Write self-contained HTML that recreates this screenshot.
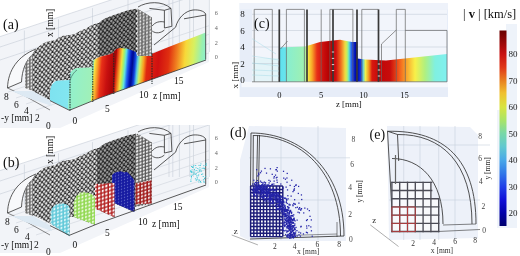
<!DOCTYPE html>
<html><head><meta charset="utf-8"><style>
html,body{margin:0;padding:0;background:#fff;}
svg{display:block;}
</style></head><body>
<svg width="520" height="256" viewBox="0 0 520 256">
<rect width="520" height="256" fill="#fff"/>
<defs>
 <pattern id="mesh" width="4.2" height="5" patternUnits="userSpaceOnUse" patternTransform="skewY(-17)">
  <rect width="4.2" height="5" fill="#eeeeee"/>
  <path d="M0,0 L4.2,5 M4.2,0 L0,5 M-2.1,2.5 L0,5 M0,0 L-2.1,2.5 M6.3,2.5 L4.2,5 M4.2,0 L6.3,2.5" stroke="#242424" stroke-width="0.85"/>
 </pattern>
 <pattern id="meshL" width="3.3" height="3.3" patternUnits="userSpaceOnUse" patternTransform="skewY(-17)">
  <rect width="3.3" height="3.3" fill="#6a6a6a"/>
  <rect x="1.0" y="0.5" width="1.6" height="2.3" fill="#f0f0f0"/>
 </pattern>
 <pattern id="meshR" width="3.6" height="3.8" patternUnits="userSpaceOnUse" patternTransform="skewY(-17)">
  <rect width="3.6" height="3.8" fill="#b01818"/>
  <rect x="0.9" y="0.7" width="2.2" height="2.5" fill="#fbf4f4"/>
 </pattern>
 <pattern id="meshW" width="3.3" height="3.3" patternUnits="userSpaceOnUse" patternTransform="skewY(-17)">
  <rect width="3.3" height="3.3" fill="#555"/>
  <rect x="0.9" y="0.7" width="2.0" height="2.2" fill="#f4f4f4"/>
 </pattern>
 <pattern id="meshC" width="3.5" height="3.5" patternUnits="userSpaceOnUse" patternTransform="skewY(-17)">
  <rect width="3.5" height="3.5" fill="#60c8d8"/>
  <rect x="1.0" y="0.7" width="1.9" height="2.2" fill="#e0f8fb"/>
 </pattern>
 <pattern id="meshG" width="3.5" height="3.5" patternUnits="userSpaceOnUse" patternTransform="skewY(-17)">
  <rect width="3.5" height="3.5" fill="#90d850"/>
  <rect x="1.0" y="0.7" width="1.9" height="2.2" fill="#eefae0"/>
 </pattern>
 <pattern id="meshB" width="3" height="3" patternUnits="userSpaceOnUse" patternTransform="skewY(-17)">
  <rect width="3" height="3" fill="#1418a0"/>
  <rect x="1" y="0.7" width="1.1" height="1.4" fill="#7078d0"/>
 </pattern>
 <pattern id="meshM" width="3.5" height="3.5" patternUnits="userSpaceOnUse" patternTransform="skewY(-17)">
  <rect width="3.5" height="3.5" fill="#a01818"/>
  <rect x="1.0" y="0.7" width="1.9" height="2.2" fill="#f8f0f0"/>
 </pattern>
 <linearGradient id="fieldA" gradientUnits="userSpaceOnUse" x1="50" y1="80" x2="208" y2="93.5"><stop offset="0.0000" stop-color="#7ee2f0"/><stop offset="0.1253" stop-color="#82e6f0"/><stop offset="0.1278" stop-color="#92f0cc"/><stop offset="0.2671" stop-color="#a0f0b8"/><stop offset="0.2709" stop-color="#f4ec48"/><stop offset="0.2911" stop-color="#f8a028"/><stop offset="0.3165" stop-color="#e83018"/><stop offset="0.3544" stop-color="#c81010"/><stop offset="0.3861" stop-color="#b00808"/><stop offset="0.4019" stop-color="#a00808"/><stop offset="0.4082" stop-color="#d82010"/><stop offset="0.4241" stop-color="#f08020"/><stop offset="0.4399" stop-color="#f0e040"/><stop offset="0.4525" stop-color="#a0f070"/><stop offset="0.4652" stop-color="#60e0e0"/><stop offset="0.4810" stop-color="#2060f0"/><stop offset="0.5000" stop-color="#0010b0"/><stop offset="0.5095" stop-color="#000c90"/><stop offset="0.5253" stop-color="#1040e0"/><stop offset="0.5411" stop-color="#60d0e0"/><stop offset="0.5570" stop-color="#d0f060"/><stop offset="0.5791" stop-color="#f8a020"/><stop offset="0.6013" stop-color="#e02810"/><stop offset="0.6709" stop-color="#d01010"/><stop offset="0.7342" stop-color="#e03010"/><stop offset="0.7848" stop-color="#f08020"/><stop offset="0.8354" stop-color="#f8d838"/><stop offset="0.8861" stop-color="#d8f060"/><stop offset="0.9367" stop-color="#98f0b0"/><stop offset="1.0000" stop-color="#80f0f0"/></linearGradient>
 <linearGradient id="fieldC" gradientUnits="userSpaceOnUse" x1="279" y1="0" x2="447" y2="0"><stop offset="0.0000" stop-color="#5ee0f0"/><stop offset="0.0387" stop-color="#68e4ec"/><stop offset="0.0476" stop-color="#88eed0"/><stop offset="0.1548" stop-color="#a0f0b0"/><stop offset="0.1696" stop-color="#f8f048"/><stop offset="0.1964" stop-color="#f8a828"/><stop offset="0.2262" stop-color="#e83018"/><stop offset="0.2679" stop-color="#c80c0c"/><stop offset="0.3036" stop-color="#b00000"/><stop offset="0.3393" stop-color="#d01010"/><stop offset="0.3690" stop-color="#f07020"/><stop offset="0.3929" stop-color="#f0d840"/><stop offset="0.4048" stop-color="#c0f060"/><stop offset="0.4167" stop-color="#60e0d0"/><stop offset="0.4286" stop-color="#3070f0"/><stop offset="0.4405" stop-color="#1030e0"/><stop offset="0.4583" stop-color="#0008a0"/><stop offset="0.4702" stop-color="#0010b0"/><stop offset="0.4881" stop-color="#1838e0"/><stop offset="0.5000" stop-color="#60d0e0"/><stop offset="0.5149" stop-color="#f0f048"/><stop offset="0.5357" stop-color="#f09020"/><stop offset="0.5536" stop-color="#d81810"/><stop offset="0.6012" stop-color="#c00808"/><stop offset="0.6607" stop-color="#c80c0c"/><stop offset="0.7083" stop-color="#f05018"/><stop offset="0.7500" stop-color="#f89828"/><stop offset="0.8095" stop-color="#f8f048"/><stop offset="0.8690" stop-color="#b0f080"/><stop offset="0.9286" stop-color="#80f0e0"/><stop offset="1.0000" stop-color="#80f0f0"/></linearGradient>
 <linearGradient id="cbar" x1="0" y1="1" x2="0" y2="0">
  <stop offset="0" stop-color="#00006e"/>
  <stop offset="0.066" stop-color="#0000a8"/>
  <stop offset="0.134" stop-color="#1010d8"/>
  <stop offset="0.202" stop-color="#2040e8"/>
  <stop offset="0.27" stop-color="#3078e8"/>
  <stop offset="0.338" stop-color="#48a8e8"/>
  <stop offset="0.405" stop-color="#60c8d0"/>
  <stop offset="0.473" stop-color="#78d8a8"/>
  <stop offset="0.54" stop-color="#a8e468"/>
  <stop offset="0.609" stop-color="#d8e440"/>
  <stop offset="0.68" stop-color="#f0c030"/>
  <stop offset="0.744" stop-color="#e88020"/>
  <stop offset="0.81" stop-color="#e03818"/>
  <stop offset="0.88" stop-color="#c81010"/>
  <stop offset="1" stop-color="#680000"/>
 </linearGradient>
</defs><clipPath id="bx0"><rect x="0" y="0" width="215" height="131"/></clipPath><g clip-path="url(#bx0)"><polygon points="0.0,36.6 209.0,-32.4 209.0,62.0 60.0,128.0 0.0,128.0" fill="#f2f4f8"/><g stroke="#c6ccd6" stroke-width="0.6" fill="none"><line x1="0" y1="36.6" x2="209" y2="-32.4"/><line x1="0" y1="47.0" x2="209" y2="-22.0"/><line x1="0" y1="60.0" x2="209" y2="-9.0"/><line x1="24.4" y1="30.5" x2="24.4" y2="70.5"/><line x1="58.5" y1="19.3" x2="58.5" y2="59.3"/><line x1="92.5" y1="8.1" x2="92.5" y2="48.1"/><line x1="128" y1="-3.6" x2="128" y2="36.4"/><line x1="169" y1="0" x2="169" y2="52"/><line x1="172.8" y1="0" x2="172.8" y2="52"/><line x1="179.4" y1="0" x2="179.4" y2="52"/><line x1="189.7" y1="0" x2="189.7" y2="52"/><line x1="193.5" y1="0" x2="193.5" y2="52"/><line x1="209.4" y1="0" x2="209.4" y2="52"/></g><g stroke="#ced3dc" stroke-width="0.6" fill="none"><line x1="8" y1="92" x2="209" y2="25.7"/><line x1="16" y1="98" x2="209" y2="34.3"/><line x1="26" y1="104" x2="209" y2="43.6"/><line x1="36" y1="110" x2="209" y2="52.9"/></g><path d="M7.5,88 C8,70 18,56 36,49 L33,54 C26,60 22,70 21.5,82 Z" fill="#f8f9fb" stroke="#333" stroke-width="0.8"/><path d="M7.5,88 L25,96 L50,110" fill="none" stroke="#555" stroke-width="0.7"/><polygon points="12.0,91.0 33.0,91.0 50.0,100.2 52.0,106.0 25.0,97.0" fill="#dde9f3"/><path d="M25,88 L25,66 C27,60 30,56 33,54 L33,91 Z" fill="url(#meshL)"/></g><clipPath id="clipA0"><polygon points="33.0,54.0 36.0,49.0 42.0,44.0 46.0,42.0 50.0,41.0 55.5,40.0 58.0,38.0 62.0,36.0 65.0,35.5 70.0,35.0 74.6,34.0 78.0,32.0 82.0,30.0 85.6,28.7 91.0,25.5 96.5,23.2 99.0,23.0 101.0,21.0 106.0,18.0 110.0,16.5 114.0,15.0 120.0,13.0 128.0,10.3 135.0,9.0 137.0,8.5 152.0,17.5 152.0,58.5 137.0,59.0 136.0,52.0 113.5,52.5 110.0,54.2 100.0,56.8 92.5,60.5 92.5,67.5 77.0,68.0 73.0,70.0 70.0,74.0 70.0,80.0 57.0,80.8 53.0,82.0 50.0,92.0 50.0,100.2 33.0,91.0"/></clipPath><polygon points="33.0,54.0 36.0,49.0 42.0,44.0 46.0,42.0 50.0,41.0 55.5,40.0 58.0,38.0 62.0,36.0 65.0,35.5 70.0,35.0 74.6,34.0 78.0,32.0 82.0,30.0 85.6,28.7 91.0,25.5 96.5,23.2 99.0,23.0 101.0,21.0 106.0,18.0 110.0,16.5 114.0,15.0 120.0,13.0 128.0,10.3 135.0,9.0 137.0,8.5 152.0,17.5 152.0,58.5 137.0,59.0 136.0,52.0 113.5,52.5 110.0,54.2 100.0,56.8 92.5,60.5 92.5,67.5 77.0,68.0 73.0,70.0 70.0,74.0 70.0,80.0 57.0,80.8 53.0,82.0 50.0,92.0 50.0,100.2 33.0,91.0" fill="url(#mesh)"/><path clip-path="url(#clipA0)" d="M97,0 C99,30 99,60 97,100 L136,100 L136,0 Z" fill="#000" opacity="0.32"/><polygon points="137.0,8.5 152.0,17.5 152.0,58.5 137.0,59.0" fill="url(#meshL)" opacity="0.85"/><path d="M50,100.25 L50,92 C50.5,86 53,82 57,80.8 L70,80 L70,74 C71,71 74,68.5 77,68 L92.5,67.5 L92.5,60.5 L100,56.75 L110,54.25 L113.5,52.5 L116,49 L120,48 L126,48.5 L131,50 L136,52 L137,56 L152,56 L152,53.8 L168,47.3 L205.7,32.5 L205.7,60 L164,75 L100,97.8 L69.4,110 Z" fill="url(#fieldA)"/><g stroke="#1e2a2a" stroke-width="1" stroke-dasharray="1.6,0.9"><line x1="70" y1="74" x2="70" y2="110.5"/><line x1="92.8" y1="61" x2="92.8" y2="102"/><line x1="113.8" y1="53" x2="113.8" y2="94"/><line x1="152" y1="53" x2="152" y2="84"/></g><path d="M70,80 C72,75 74,72 77,70" fill="none" stroke="#3a5a5a" stroke-width="0.6"/><g stroke="#303030" stroke-width="0.8" fill="none"><path d="M138,7.0 C147,1.5 162,0.5 171,8.4 L171.9,26.3 L164.4,28.0 L164.4,10.3 L149.4,8.4"/><path d="M164.4,10.3 L171,8.4"/><path d="M152.2,26.0 C155,22.0 160,21.0 164.4,22.0"/><path d="M152.2,31.0 C156,34.0 161,33.0 164.4,30.0"/><path d="M154,45.0 L175.6,27.2"/><path d="M175.6,27.2 C178,18.0 185,11.0 193,10.0 C199,9.5 204,11.0 205.7,14.0 L205.7,59.5"/><path d="M184,18.8 L205.7,15.0"/><path d="M206,60.0 L164,75.0 L100,97.8 L69.4,110.3 L50,100.6"/></g><clipPath id="bx125"><rect x="0" y="125" width="215" height="131"/></clipPath><g clip-path="url(#bx125)"><polygon points="0.0,170.6 209.0,101.6 209.0,187.0 60.0,253.0 0.0,253.0" fill="#f2f4f8"/><g stroke="#c6ccd6" stroke-width="0.6" fill="none"><line x1="0" y1="170.6" x2="209" y2="101.6"/><line x1="0" y1="181.0" x2="209" y2="112.0"/><line x1="0" y1="194.0" x2="209" y2="125.0"/><line x1="24.4" y1="164.5" x2="24.4" y2="204.5"/><line x1="58.5" y1="153.3" x2="58.5" y2="193.3"/><line x1="92.5" y1="142.1" x2="92.5" y2="182.1"/><line x1="128" y1="130.4" x2="128" y2="170.4"/><line x1="169" y1="123" x2="169" y2="177"/><line x1="172.8" y1="123" x2="172.8" y2="177"/><line x1="179.4" y1="123" x2="179.4" y2="177"/><line x1="189.7" y1="123" x2="189.7" y2="177"/><line x1="193.5" y1="123" x2="193.5" y2="177"/><line x1="209.4" y1="123" x2="209.4" y2="177"/></g><g stroke="#ced3dc" stroke-width="0.6" fill="none"><line x1="8" y1="217" x2="209" y2="150.7"/><line x1="16" y1="223" x2="209" y2="159.3"/><line x1="26" y1="229" x2="209" y2="168.6"/><line x1="36" y1="235" x2="209" y2="177.9"/></g><path d="M7.5,213 C8,195 18,181 36,174 L33,179 C26,185 22,195 21.5,207 Z" fill="#f8f9fb" stroke="#333" stroke-width="0.8"/><path d="M7.5,213 L25,221 L50,235" fill="none" stroke="#555" stroke-width="0.7"/><polygon points="12.0,216.0 33.0,216.0 50.0,225.2 52.0,231.0 25.0,222.0" fill="#dde9f3"/><path d="M25,213 L25,191 C27,185 30,181 33,179 L33,216 Z" fill="url(#meshL)"/></g><clipPath id="clipB125"><polygon points="33.0,179.0 36.0,174.0 42.0,169.0 46.0,167.0 50.0,166.0 55.5,165.0 58.0,163.0 62.0,161.0 65.0,160.5 70.0,160.0 74.6,159.0 78.0,157.0 82.0,155.0 85.6,153.7 91.0,150.5 96.5,148.2 99.0,148.0 101.0,146.0 106.0,143.0 110.0,141.5 114.0,140.0 120.0,138.0 128.0,135.3 135.0,134.0 137.0,133.5 152.0,142.5 152.0,204.0 135.4,204.6 134.4,212.0 114.5,203.3 114.5,217.2 95.0,208.5 95.0,224.8 73.8,217.0 69.5,217.0 69.5,236.2 50.6,223.8 33.0,215.0"/></clipPath><polygon points="33.0,179.0 36.0,174.0 42.0,169.0 46.0,167.0 50.0,166.0 55.5,165.0 58.0,163.0 62.0,161.0 65.0,160.5 70.0,160.0 74.6,159.0 78.0,157.0 82.0,155.0 85.6,153.7 91.0,150.5 96.5,148.2 99.0,148.0 101.0,146.0 106.0,143.0 110.0,141.5 114.0,140.0 120.0,138.0 128.0,135.3 135.0,134.0 137.0,133.5 152.0,142.5 152.0,204.0 135.4,204.6 134.4,212.0 114.5,203.3 114.5,217.2 95.0,208.5 95.0,224.8 73.8,217.0 69.5,217.0 69.5,236.2 50.6,223.8 33.0,215.0" fill="url(#mesh)"/><path clip-path="url(#clipB125)" d="M97,125 L97,225 L136,225 L136,125 Z" fill="#000" opacity="0.3"/><polygon points="135.0,133.5 152.0,142.5 152.0,204.0 135.0,207.0" fill="url(#meshW)"/><path d="M50.6,223.75 L50.6,213.50 C51.5,207.00 55,203.50 61,203.50 C66,203.50 69.5,205.00 69.5,208.00 L69.5,236.25 Z" fill="url(#meshC)"/><path d="M73.8,217.00 L73.8,203.50 C75,196.00 78,192.40 84,192.20 C89,192.40 94,194.50 95,198.00 L95,224.75 Z" fill="url(#meshG)"/><path d="M112,202.00 L112,175.00 L115,172.50 L118,171.80 L121,171.20 L124,172.50 L127,171.80 L131,176.00 L134.4,180.00 L134.4,212.00 Z" fill="url(#meshB)"/><path d="M95,208.50 L95,184.00 L114.5,183.00 L114.5,217.25 Z" fill="url(#meshR)"/><path d="M135.4,204.60 L135.4,183.30 L151.7,180.30 L151.7,203.60 Z" fill="url(#meshM)"/><g stroke="#303030" stroke-width="0.8" fill="none"><path d="M138,132.0 C147,126.5 162,125.5 171,133.4 L171.9,151.3 L164.4,153.0 L164.4,135.3 L149.4,133.4"/><path d="M164.4,135.3 L171,133.4"/><path d="M152.2,151.0 C155,147.0 160,146.0 164.4,147.0"/><path d="M152.2,156.0 C156,159.0 161,158.0 164.4,155.0"/><path d="M154,170.0 L175.6,152.2"/><path d="M175.6,152.2 C178,143.0 185,136.0 193,135.0 C199,134.5 204,136.0 205.7,139.0 L205.7,184.5"/><path d="M184,143.8 L205.7,140.0"/><path d="M206,185.0 L164,200.0 L100,222.8 L69.4,235.3 L50,225.6"/></g><g fill="#40c8d8"><rect x="195.2" y="165.0" width="1" height="1"/><rect x="200.4" y="163.4" width="1" height="1"/><rect x="198.6" y="169.3" width="1" height="1"/><rect x="190.9" y="172.1" width="1" height="1"/><rect x="190.6" y="170.7" width="1" height="1"/><rect x="196.8" y="178.5" width="1" height="1"/><rect x="192.0" y="166.5" width="1" height="1"/><rect x="200.0" y="181.0" width="1" height="1"/><rect x="199.2" y="169.9" width="1" height="1"/><rect x="205.6" y="162.9" width="1" height="1"/><rect x="203.7" y="167.8" width="1" height="1"/><rect x="194.9" y="178.3" width="1" height="1"/><rect x="192.9" y="173.6" width="1" height="1"/><rect x="200.2" y="169.4" width="1" height="1"/><rect x="191.0" y="166.1" width="1" height="1"/><rect x="200.9" y="170.6" width="1" height="1"/><rect x="195.0" y="173.7" width="1" height="1"/><rect x="197.3" y="168.0" width="1" height="1"/><rect x="202.7" y="176.0" width="1" height="1"/><rect x="193.9" y="173.5" width="1" height="1"/><rect x="198.4" y="179.5" width="1" height="1"/><rect x="201.7" y="167.8" width="1" height="1"/><rect x="205.7" y="164.4" width="1" height="1"/><rect x="196.7" y="177.1" width="1" height="1"/><rect x="192.4" y="171.8" width="1" height="1"/><rect x="190.6" y="175.4" width="1" height="1"/><rect x="202.2" y="173.5" width="1" height="1"/><rect x="204.0" y="168.3" width="1" height="1"/><rect x="201.1" y="173.9" width="1" height="1"/><rect x="199.3" y="171.1" width="1" height="1"/><rect x="203.4" y="180.9" width="1" height="1"/><rect x="197.6" y="175.3" width="1" height="1"/><rect x="191.0" y="176.0" width="1" height="1"/><rect x="200.4" y="181.9" width="1" height="1"/><rect x="203.2" y="167.7" width="1" height="1"/><rect x="196.2" y="175.4" width="1" height="1"/><rect x="190.4" y="171.2" width="1" height="1"/><rect x="190.9" y="177.4" width="1" height="1"/><rect x="192.1" y="167.0" width="1" height="1"/><rect x="196.3" y="179.4" width="1" height="1"/><rect x="191.3" y="171.0" width="1" height="1"/><rect x="198.8" y="179.7" width="1" height="1"/><rect x="203.1" y="179.3" width="1" height="1"/><rect x="194.5" y="170.3" width="1" height="1"/><rect x="195.7" y="179.7" width="1" height="1"/><rect x="205.3" y="165.0" width="1" height="1"/><rect x="192.8" y="166.6" width="1" height="1"/><rect x="193.7" y="171.7" width="1" height="1"/><rect x="199.4" y="167.3" width="1" height="1"/><rect x="190.1" y="170.4" width="1" height="1"/><rect x="195.9" y="173.3" width="1" height="1"/><rect x="205.2" y="175.8" width="1" height="1"/><rect x="198.2" y="174.4" width="1" height="1"/><rect x="204.4" y="177.6" width="1" height="1"/><rect x="204.0" y="178.0" width="1" height="1"/><rect x="196.3" y="170.0" width="1" height="1"/><rect x="191.7" y="174.7" width="1" height="1"/><rect x="193.3" y="165.2" width="1" height="1"/><rect x="191.6" y="169.3" width="1" height="1"/><rect x="190.4" y="179.5" width="1" height="1"/><rect x="199.8" y="165.0" width="1" height="1"/><rect x="194.0" y="168.9" width="1" height="1"/><rect x="203.6" y="181.9" width="1" height="1"/><rect x="197.5" y="171.7" width="1" height="1"/><rect x="195.5" y="167.3" width="1" height="1"/><rect x="203.3" y="165.2" width="1" height="1"/><rect x="190.4" y="181.0" width="1" height="1"/><rect x="198.5" y="164.9" width="1" height="1"/><rect x="198.4" y="181.6" width="1" height="1"/></g><rect x="239.6" y="3" width="208.4" height="94" fill="#e7edf8"/><rect x="252" y="9.4" width="195" height="72.4" fill="#f2f5fb"/><rect x="252.5" y="58" width="26" height="23.8" fill="#e4f4f8"/><rect x="241.5" y="81.8" width="206.5" height="5.4" fill="#f6f8fc"/><rect x="239.6" y="3" width="208.4" height="6.4" fill="#eef2fa"/><g stroke="#c4ccd8" stroke-width="0.6"><line x1="252" y1="14.3" x2="447" y2="14.3"/><line x1="252" y1="30.5" x2="447" y2="30.5"/><line x1="252" y1="47" x2="447" y2="47"/><line x1="252" y1="63.5" x2="447" y2="63.5"/></g><polygon points="279.0,47.5 305.0,46.4 320.0,42.0 340.0,39.8 352.0,42.0 357.5,42.0 357.5,58.4 365.0,59.4 386.0,60.6 447.0,54.0 447.0,81.8 279.0,81.8" fill="url(#fieldC)"/><g stroke="#666" stroke-width="0.7" fill="none"><line x1="254.2" y1="9.4" x2="254.2" y2="81.8"/><line x1="272.3" y1="9.4" x2="272.3" y2="81.8"/><line x1="286.4" y1="9.4" x2="286.4" y2="81.8"/><line x1="304.4" y1="9.4" x2="304.4" y2="81.8"/><line x1="321.2" y1="9.4" x2="321.2" y2="81.8"/><line x1="329.9" y1="9.4" x2="329.9" y2="81.8"/><line x1="352.9" y1="9.4" x2="352.9" y2="81.8"/><line x1="361.8" y1="9.4" x2="361.8" y2="81.8"/><line x1="396.3" y1="9.4" x2="396.3" y2="81.8"/><line x1="405.3" y1="9.4" x2="405.3" y2="81.8"/><line x1="381.5" y1="44" x2="381.5" y2="81.8"/><line x1="381.5" y1="44" x2="396.3" y2="30"/><line x1="280.5" y1="49" x2="287.5" y2="41"/><line x1="254.2" y1="9.4" x2="272.3" y2="9.4"/><line x1="286.4" y1="9.4" x2="304.4" y2="9.4"/><line x1="329.9" y1="9.4" x2="352.9" y2="9.4"/><line x1="361.8" y1="9.4" x2="378.2" y2="9.4"/><line x1="396.3" y1="9.4" x2="405.3" y2="9.4"/><line x1="405.3" y1="30.4" x2="447" y2="30.4"/><line x1="447" y1="30.4" x2="447" y2="81.8"/><line x1="252" y1="81.8" x2="447" y2="81.8"/></g><g stroke="#383838" stroke-width="1.7"><line x1="279.3" y1="9.4" x2="279.3" y2="81.8"/><line x1="307" y1="9.4" x2="307" y2="81.8"/><line x1="333" y1="9.4" x2="333" y2="81.8"/><line x1="357" y1="9.4" x2="357" y2="81.8"/><line x1="378.5" y1="9.4" x2="378.5" y2="81.8"/></g><g stroke="#f4e0e0" stroke-width="0.9"><line x1="331.8" y1="52" x2="334.2" y2="52"/><line x1="331.8" y1="58.4" x2="334.2" y2="58.4"/><line x1="331.8" y1="64.6" x2="334.2" y2="64.6"/><line x1="331.8" y1="70.5" x2="334.2" y2="70.5"/><line x1="377.8" y1="64" x2="380.2" y2="64"/><line x1="377.8" y1="70" x2="380.2" y2="70"/><line x1="377.8" y1="76" x2="380.2" y2="76"/></g><g stroke="#a8dce8" stroke-width="0.5" fill="none"><line x1="252" y1="38.7" x2="276" y2="54"/><line x1="252" y1="56" x2="279" y2="60"/><line x1="252" y1="63" x2="279" y2="66"/><line x1="252" y1="70" x2="279" y2="71"/><line x1="252" y1="75" x2="279" y2="76"/></g><rect x="506" y="24" width="11" height="204" fill="#eef3fa"/><rect x="497" y="110" width="10" height="118" fill="#f0f4fa"/><rect x="499.5" y="30.5" width="7" height="195.5" fill="url(#cbar)"/><polygon points="249,126 346,128 346,241 250,241 240,236 240,160" fill="#edf1f9"/><g stroke="#c8d0dc" stroke-width="0.6"><line x1="249" y1="157.8" x2="350" y2="157.8"/><line x1="281" y1="126" x2="281" y2="240"/><line x1="318" y1="126" x2="318" y2="240"/><line x1="250" y1="200" x2="340" y2="200"/></g><g stroke="#333" stroke-width="0.85" fill="none"><path d="M251,133 C301,133 344,170 344,236"/><path d="M253.3,135.5 C300,135.5 340.5,171 340.5,236"/><path d="M337,222 L337,237" stroke-width="0.6"/><path d="M251,133 L250.5,188 M253.3,135 L253,188 M257.6,135 L256.5,188 M259.5,135 L258.5,188"/><path d="M250,239 L344,236"/><path d="M250,236.6 L337,234" stroke-width="0.5"/></g><rect x="250.6" y="186" width="32.2" height="50.6" fill="#fafbfe"/><g stroke="#1c1c78" stroke-width="1.45"><line x1="250.6" y1="186" x2="250.6" y2="236.6"/><line x1="253.8" y1="186" x2="253.8" y2="236.6"/><line x1="257.0" y1="186" x2="257.0" y2="236.6"/><line x1="260.3" y1="186" x2="260.3" y2="236.6"/><line x1="263.5" y1="186" x2="263.5" y2="236.6"/><line x1="266.7" y1="186" x2="266.7" y2="236.6"/><line x1="269.9" y1="186" x2="269.9" y2="236.6"/><line x1="273.1" y1="186" x2="273.1" y2="236.6"/><line x1="276.4" y1="186" x2="276.4" y2="236.6"/><line x1="279.6" y1="186" x2="279.6" y2="236.6"/><line x1="282.8" y1="186" x2="282.8" y2="236.6"/><line x1="250.6" y1="186.0" x2="282.8" y2="186.0"/><line x1="250.6" y1="189.4" x2="282.8" y2="189.4"/><line x1="250.6" y1="192.7" x2="282.8" y2="192.7"/><line x1="250.6" y1="196.1" x2="282.8" y2="196.1"/><line x1="250.6" y1="199.5" x2="282.8" y2="199.5"/><line x1="250.6" y1="202.9" x2="282.8" y2="202.9"/><line x1="250.6" y1="206.2" x2="282.8" y2="206.2"/><line x1="250.6" y1="209.6" x2="282.8" y2="209.6"/><line x1="250.6" y1="213.0" x2="282.8" y2="213.0"/><line x1="250.6" y1="216.4" x2="282.8" y2="216.4"/><line x1="250.6" y1="219.7" x2="282.8" y2="219.7"/><line x1="250.6" y1="223.1" x2="282.8" y2="223.1"/><line x1="250.6" y1="226.5" x2="282.8" y2="226.5"/><line x1="250.6" y1="229.9" x2="282.8" y2="229.9"/><line x1="250.6" y1="233.2" x2="282.8" y2="233.2"/><line x1="250.6" y1="236.6" x2="282.8" y2="236.6"/></g><g fill="#2424a8"><rect x="300.1" y="209.6" width="1.25" height="1.25"/><rect x="280.7" y="216.5" width="1.25" height="1.25"/><rect x="269.8" y="168.2" width="1.25" height="1.25"/><rect x="277.7" y="201.2" width="1.25" height="1.25"/><rect x="270.8" y="193.6" width="1.25" height="1.25"/><rect x="290.7" y="221.3" width="1.25" height="1.25"/><rect x="293.8" y="188.2" width="1.25" height="1.25"/><rect x="264.4" y="194.7" width="1.25" height="1.25"/><rect x="262.5" y="197.7" width="1.25" height="1.25"/><rect x="288.6" y="204.4" width="1.25" height="1.25"/><rect x="258.6" y="185.9" width="1.25" height="1.25"/><rect x="282.9" y="170.7" width="1.25" height="1.25"/><rect x="293.1" y="236.2" width="1.25" height="1.25"/><rect x="261.0" y="184.3" width="1.25" height="1.25"/><rect x="285.2" y="216.0" width="1.25" height="1.25"/><rect x="257.0" y="189.8" width="1.25" height="1.25"/><rect x="257.8" y="188.0" width="1.25" height="1.25"/><rect x="287.1" y="235.1" width="1.25" height="1.25"/><rect x="263.2" y="190.9" width="1.25" height="1.25"/><rect x="277.1" y="204.0" width="1.25" height="1.25"/><rect x="275.7" y="199.4" width="1.25" height="1.25"/><rect x="265.7" y="195.6" width="1.25" height="1.25"/><rect x="279.2" y="202.3" width="1.25" height="1.25"/><rect x="255.7" y="192.9" width="1.25" height="1.25"/><rect x="278.6" y="198.4" width="1.25" height="1.25"/><rect x="289.4" y="226.9" width="1.25" height="1.25"/><rect x="267.1" y="184.8" width="1.25" height="1.25"/><rect x="272.1" y="193.0" width="1.25" height="1.25"/><rect x="254.7" y="187.5" width="1.25" height="1.25"/><rect x="306.7" y="219.0" width="1.25" height="1.25"/><rect x="267.9" y="191.3" width="1.25" height="1.25"/><rect x="293.1" y="235.8" width="1.25" height="1.25"/><rect x="268.3" y="179.7" width="1.25" height="1.25"/><rect x="294.9" y="233.2" width="1.25" height="1.25"/><rect x="260.8" y="196.2" width="1.25" height="1.25"/><rect x="273.5" y="180.5" width="1.25" height="1.25"/><rect x="284.2" y="204.8" width="1.25" height="1.25"/><rect x="259.9" y="189.1" width="1.25" height="1.25"/><rect x="284.6" y="213.5" width="1.25" height="1.25"/><rect x="289.9" y="217.0" width="1.25" height="1.25"/><rect x="291.2" y="220.1" width="1.25" height="1.25"/><rect x="288.3" y="222.7" width="1.25" height="1.25"/><rect x="294.9" y="235.8" width="1.25" height="1.25"/><rect x="284.1" y="230.2" width="1.25" height="1.25"/><rect x="262.1" y="187.9" width="1.25" height="1.25"/><rect x="263.3" y="186.1" width="1.25" height="1.25"/><rect x="284.1" y="210.8" width="1.25" height="1.25"/><rect x="288.7" y="225.2" width="1.25" height="1.25"/><rect x="298.5" y="208.3" width="1.25" height="1.25"/><rect x="287.4" y="225.2" width="1.25" height="1.25"/><rect x="291.1" y="179.6" width="1.25" height="1.25"/><rect x="284.0" y="209.2" width="1.25" height="1.25"/><rect x="278.4" y="201.2" width="1.25" height="1.25"/><rect x="289.8" y="234.8" width="1.25" height="1.25"/><rect x="279.1" y="200.3" width="1.25" height="1.25"/><rect x="288.8" y="210.7" width="1.25" height="1.25"/><rect x="270.7" y="198.1" width="1.25" height="1.25"/><rect x="273.3" y="177.4" width="1.25" height="1.25"/><rect x="262.7" y="197.1" width="1.25" height="1.25"/><rect x="275.7" y="177.2" width="1.25" height="1.25"/><rect x="283.9" y="211.3" width="1.25" height="1.25"/><rect x="269.3" y="196.0" width="1.25" height="1.25"/><rect x="265.8" y="195.1" width="1.25" height="1.25"/><rect x="291.3" y="215.2" width="1.25" height="1.25"/><rect x="291.3" y="221.5" width="1.25" height="1.25"/><rect x="269.9" y="196.7" width="1.25" height="1.25"/><rect x="292.3" y="230.1" width="1.25" height="1.25"/><rect x="288.7" y="235.6" width="1.25" height="1.25"/><rect x="272.2" y="188.6" width="1.25" height="1.25"/><rect x="287.8" y="228.0" width="1.25" height="1.25"/><rect x="311.6" y="235.6" width="1.25" height="1.25"/><rect x="293.1" y="214.2" width="1.25" height="1.25"/><rect x="275.5" y="197.2" width="1.25" height="1.25"/><rect x="262.2" y="193.2" width="1.25" height="1.25"/><rect x="279.7" y="201.2" width="1.25" height="1.25"/><rect x="286.1" y="198.8" width="1.25" height="1.25"/><rect x="289.1" y="237.6" width="1.25" height="1.25"/><rect x="257.5" y="181.9" width="1.25" height="1.25"/><rect x="252.2" y="190.0" width="1.25" height="1.25"/><rect x="288.5" y="214.3" width="1.25" height="1.25"/><rect x="255.6" y="184.8" width="1.25" height="1.25"/><rect x="255.5" y="187.0" width="1.25" height="1.25"/><rect x="258.5" y="184.7" width="1.25" height="1.25"/><rect x="285.7" y="201.2" width="1.25" height="1.25"/><rect x="293.2" y="232.3" width="1.25" height="1.25"/><rect x="267.9" y="192.9" width="1.25" height="1.25"/><rect x="288.7" y="213.1" width="1.25" height="1.25"/><rect x="257.9" y="186.2" width="1.25" height="1.25"/><rect x="298.0" y="185.8" width="1.25" height="1.25"/><rect x="286.2" y="210.0" width="1.25" height="1.25"/><rect x="264.5" y="198.0" width="1.25" height="1.25"/><rect x="281.7" y="210.5" width="1.25" height="1.25"/><rect x="280.8" y="201.2" width="1.25" height="1.25"/><rect x="286.7" y="216.6" width="1.25" height="1.25"/><rect x="259.9" y="180.5" width="1.25" height="1.25"/><rect x="258.0" y="190.6" width="1.25" height="1.25"/><rect x="261.8" y="197.1" width="1.25" height="1.25"/><rect x="294.1" y="227.7" width="1.25" height="1.25"/><rect x="275.4" y="190.0" width="1.25" height="1.25"/><rect x="289.7" y="233.5" width="1.25" height="1.25"/><rect x="296.8" y="206.6" width="1.25" height="1.25"/><rect x="290.3" y="231.8" width="1.25" height="1.25"/><rect x="287.4" y="219.6" width="1.25" height="1.25"/><rect x="269.4" y="203.2" width="1.25" height="1.25"/><rect x="290.7" y="217.8" width="1.25" height="1.25"/><rect x="272.7" y="189.5" width="1.25" height="1.25"/><rect x="256.1" y="186.4" width="1.25" height="1.25"/><rect x="285.8" y="223.9" width="1.25" height="1.25"/><rect x="292.0" y="220.1" width="1.25" height="1.25"/><rect x="289.6" y="219.5" width="1.25" height="1.25"/><rect x="296.5" y="219.5" width="1.25" height="1.25"/><rect x="284.5" y="208.1" width="1.25" height="1.25"/><rect x="289.4" y="232.8" width="1.25" height="1.25"/><rect x="276.7" y="170.5" width="1.25" height="1.25"/><rect x="267.3" y="188.5" width="1.25" height="1.25"/><rect x="289.6" y="204.3" width="1.25" height="1.25"/><rect x="253.9" y="189.3" width="1.25" height="1.25"/><rect x="288.0" y="209.5" width="1.25" height="1.25"/><rect x="288.1" y="206.8" width="1.25" height="1.25"/><rect x="257.5" y="186.7" width="1.25" height="1.25"/><rect x="305.8" y="231.7" width="1.25" height="1.25"/><rect x="268.3" y="189.7" width="1.25" height="1.25"/><rect x="291.9" y="214.8" width="1.25" height="1.25"/><rect x="290.3" y="237.5" width="1.25" height="1.25"/><rect x="288.9" y="219.9" width="1.25" height="1.25"/><rect x="292.4" y="215.6" width="1.25" height="1.25"/><rect x="264.1" y="191.7" width="1.25" height="1.25"/><rect x="274.1" y="196.6" width="1.25" height="1.25"/><rect x="289.8" y="221.3" width="1.25" height="1.25"/><rect x="289.8" y="234.1" width="1.25" height="1.25"/><rect x="277.5" y="208.9" width="1.25" height="1.25"/><rect x="271.6" y="194.6" width="1.25" height="1.25"/><rect x="290.8" y="212.3" width="1.25" height="1.25"/><rect x="292.4" y="219.7" width="1.25" height="1.25"/><rect x="288.4" y="211.9" width="1.25" height="1.25"/><rect x="286.5" y="221.0" width="1.25" height="1.25"/><rect x="278.9" y="206.9" width="1.25" height="1.25"/><rect x="281.6" y="217.2" width="1.25" height="1.25"/><rect x="257.2" y="175.3" width="1.25" height="1.25"/><rect x="254.5" y="188.4" width="1.25" height="1.25"/><rect x="293.4" y="217.5" width="1.25" height="1.25"/><rect x="271.6" y="194.0" width="1.25" height="1.25"/><rect x="272.2" y="188.8" width="1.25" height="1.25"/><rect x="291.0" y="231.8" width="1.25" height="1.25"/><rect x="270.1" y="198.6" width="1.25" height="1.25"/><rect x="285.5" y="214.9" width="1.25" height="1.25"/><rect x="286.0" y="210.5" width="1.25" height="1.25"/><rect x="293.6" y="219.7" width="1.25" height="1.25"/><rect x="263.4" y="187.1" width="1.25" height="1.25"/><rect x="286.9" y="225.2" width="1.25" height="1.25"/><rect x="274.2" y="194.9" width="1.25" height="1.25"/><rect x="286.6" y="217.0" width="1.25" height="1.25"/><rect x="253.1" y="193.9" width="1.25" height="1.25"/><rect x="295.2" y="184.8" width="1.25" height="1.25"/><rect x="258.1" y="188.4" width="1.25" height="1.25"/><rect x="284.4" y="208.0" width="1.25" height="1.25"/><rect x="286.5" y="221.3" width="1.25" height="1.25"/><rect x="269.8" y="189.3" width="1.25" height="1.25"/><rect x="266.2" y="189.9" width="1.25" height="1.25"/><rect x="271.4" y="199.0" width="1.25" height="1.25"/><rect x="281.1" y="208.1" width="1.25" height="1.25"/><rect x="282.5" y="199.5" width="1.25" height="1.25"/><rect x="281.1" y="203.9" width="1.25" height="1.25"/><rect x="292.7" y="229.5" width="1.25" height="1.25"/><rect x="273.5" y="193.4" width="1.25" height="1.25"/><rect x="278.4" y="203.7" width="1.25" height="1.25"/><rect x="261.6" y="189.4" width="1.25" height="1.25"/><rect x="253.1" y="189.3" width="1.25" height="1.25"/><rect x="265.1" y="191.1" width="1.25" height="1.25"/><rect x="257.9" y="188.8" width="1.25" height="1.25"/><rect x="279.0" y="203.0" width="1.25" height="1.25"/><rect x="287.6" y="233.7" width="1.25" height="1.25"/><rect x="259.9" y="172.1" width="1.25" height="1.25"/><rect x="278.4" y="200.2" width="1.25" height="1.25"/><rect x="282.6" y="187.4" width="1.25" height="1.25"/><rect x="294.0" y="199.1" width="1.25" height="1.25"/><rect x="294.2" y="203.3" width="1.25" height="1.25"/><rect x="262.4" y="189.9" width="1.25" height="1.25"/><rect x="276.6" y="181.7" width="1.25" height="1.25"/><rect x="289.2" y="225.7" width="1.25" height="1.25"/><rect x="290.0" y="218.2" width="1.25" height="1.25"/><rect x="283.4" y="211.2" width="1.25" height="1.25"/><rect x="285.8" y="222.8" width="1.25" height="1.25"/><rect x="255.2" y="189.7" width="1.25" height="1.25"/><rect x="263.5" y="194.8" width="1.25" height="1.25"/><rect x="270.2" y="199.9" width="1.25" height="1.25"/><rect x="264.6" y="200.5" width="1.25" height="1.25"/><rect x="279.6" y="197.5" width="1.25" height="1.25"/><rect x="278.2" y="198.6" width="1.25" height="1.25"/><rect x="274.2" y="197.4" width="1.25" height="1.25"/><rect x="285.0" y="213.7" width="1.25" height="1.25"/><rect x="274.9" y="174.5" width="1.25" height="1.25"/><rect x="277.2" y="208.1" width="1.25" height="1.25"/><rect x="291.6" y="234.4" width="1.25" height="1.25"/><rect x="290.2" y="215.4" width="1.25" height="1.25"/><rect x="275.3" y="204.8" width="1.25" height="1.25"/><rect x="258.3" y="187.9" width="1.25" height="1.25"/><rect x="266.7" y="192.6" width="1.25" height="1.25"/><rect x="282.2" y="222.6" width="1.25" height="1.25"/><rect x="278.3" y="207.9" width="1.25" height="1.25"/><rect x="271.2" y="184.4" width="1.25" height="1.25"/><rect x="268.8" y="204.6" width="1.25" height="1.25"/><rect x="256.2" y="185.4" width="1.25" height="1.25"/><rect x="291.5" y="234.0" width="1.25" height="1.25"/><rect x="275.0" y="198.2" width="1.25" height="1.25"/><rect x="310.8" y="230.2" width="1.25" height="1.25"/><rect x="285.2" y="221.6" width="1.25" height="1.25"/><rect x="283.1" y="177.5" width="1.25" height="1.25"/><rect x="288.6" y="230.0" width="1.25" height="1.25"/><rect x="289.1" y="235.0" width="1.25" height="1.25"/><rect x="286.7" y="208.9" width="1.25" height="1.25"/><rect x="293.3" y="234.3" width="1.25" height="1.25"/><rect x="282.8" y="213.7" width="1.25" height="1.25"/><rect x="262.5" y="187.5" width="1.25" height="1.25"/><rect x="266.8" y="191.2" width="1.25" height="1.25"/><rect x="284.1" y="224.6" width="1.25" height="1.25"/><rect x="255.1" y="185.5" width="1.25" height="1.25"/><rect x="279.0" y="202.2" width="1.25" height="1.25"/><rect x="265.4" y="188.7" width="1.25" height="1.25"/><rect x="280.7" y="210.9" width="1.25" height="1.25"/><rect x="283.3" y="224.3" width="1.25" height="1.25"/><rect x="284.0" y="221.5" width="1.25" height="1.25"/><rect x="268.7" y="185.8" width="1.25" height="1.25"/><rect x="273.9" y="190.1" width="1.25" height="1.25"/><rect x="267.4" y="184.1" width="1.25" height="1.25"/><rect x="290.4" y="222.1" width="1.25" height="1.25"/><rect x="287.6" y="225.2" width="1.25" height="1.25"/><rect x="287.9" y="224.5" width="1.25" height="1.25"/><rect x="306.0" y="225.4" width="1.25" height="1.25"/><rect x="269.9" y="185.0" width="1.25" height="1.25"/><rect x="289.3" y="228.6" width="1.25" height="1.25"/><rect x="268.0" y="198.4" width="1.25" height="1.25"/><rect x="293.3" y="225.0" width="1.25" height="1.25"/><rect x="278.4" y="195.4" width="1.25" height="1.25"/><rect x="268.5" y="194.8" width="1.25" height="1.25"/><rect x="274.2" y="191.9" width="1.25" height="1.25"/><rect x="286.7" y="230.7" width="1.25" height="1.25"/><rect x="281.3" y="208.0" width="1.25" height="1.25"/><rect x="271.1" y="195.1" width="1.25" height="1.25"/><rect x="281.3" y="201.2" width="1.25" height="1.25"/><rect x="287.4" y="226.5" width="1.25" height="1.25"/><rect x="280.3" y="196.8" width="1.25" height="1.25"/><rect x="263.0" y="186.3" width="1.25" height="1.25"/><rect x="270.3" y="194.2" width="1.25" height="1.25"/><rect x="293.2" y="232.1" width="1.25" height="1.25"/><rect x="282.4" y="207.4" width="1.25" height="1.25"/><rect x="268.2" y="191.9" width="1.25" height="1.25"/><rect x="264.4" y="186.8" width="1.25" height="1.25"/><rect x="273.6" y="194.7" width="1.25" height="1.25"/><rect x="253.6" y="194.9" width="1.25" height="1.25"/><rect x="293.3" y="189.3" width="1.25" height="1.25"/><rect x="260.9" y="186.9" width="1.25" height="1.25"/><rect x="280.0" y="207.3" width="1.25" height="1.25"/><rect x="286.2" y="214.6" width="1.25" height="1.25"/><rect x="272.7" y="192.9" width="1.25" height="1.25"/><rect x="262.0" y="195.5" width="1.25" height="1.25"/><rect x="292.1" y="236.7" width="1.25" height="1.25"/><rect x="283.7" y="219.2" width="1.25" height="1.25"/><rect x="291.1" y="225.7" width="1.25" height="1.25"/><rect x="258.4" y="192.4" width="1.25" height="1.25"/><rect x="262.2" y="184.3" width="1.25" height="1.25"/><rect x="265.9" y="196.3" width="1.25" height="1.25"/><rect x="289.8" y="225.4" width="1.25" height="1.25"/><rect x="292.1" y="225.2" width="1.25" height="1.25"/><rect x="261.6" y="189.0" width="1.25" height="1.25"/><rect x="261.3" y="189.3" width="1.25" height="1.25"/><rect x="271.1" y="198.7" width="1.25" height="1.25"/><rect x="284.2" y="214.4" width="1.25" height="1.25"/><rect x="256.3" y="196.8" width="1.25" height="1.25"/><rect x="281.9" y="212.4" width="1.25" height="1.25"/><rect x="293.6" y="218.6" width="1.25" height="1.25"/><rect x="262.5" y="188.0" width="1.25" height="1.25"/><rect x="278.6" y="204.1" width="1.25" height="1.25"/><rect x="285.7" y="215.6" width="1.25" height="1.25"/><rect x="293.7" y="234.5" width="1.25" height="1.25"/><rect x="292.8" y="237.3" width="1.25" height="1.25"/><rect x="272.9" y="194.5" width="1.25" height="1.25"/><rect x="268.6" y="197.1" width="1.25" height="1.25"/><rect x="269.9" y="197.9" width="1.25" height="1.25"/><rect x="266.5" y="190.6" width="1.25" height="1.25"/><rect x="263.5" y="188.7" width="1.25" height="1.25"/><rect x="285.1" y="214.2" width="1.25" height="1.25"/><rect x="272.7" y="202.3" width="1.25" height="1.25"/><rect x="258.2" y="174.0" width="1.25" height="1.25"/><rect x="278.0" y="195.3" width="1.25" height="1.25"/><rect x="271.4" y="195.7" width="1.25" height="1.25"/><rect x="292.1" y="235.9" width="1.25" height="1.25"/><rect x="258.4" y="192.2" width="1.25" height="1.25"/><rect x="288.6" y="223.1" width="1.25" height="1.25"/><rect x="262.3" y="181.9" width="1.25" height="1.25"/><rect x="255.5" y="189.9" width="1.25" height="1.25"/><rect x="286.7" y="236.5" width="1.25" height="1.25"/><rect x="283.4" y="215.4" width="1.25" height="1.25"/><rect x="298.3" y="231.6" width="1.25" height="1.25"/><rect x="263.7" y="191.3" width="1.25" height="1.25"/><rect x="281.4" y="208.6" width="1.25" height="1.25"/><rect x="286.4" y="181.6" width="1.25" height="1.25"/><rect x="265.9" y="172.5" width="1.25" height="1.25"/><rect x="284.8" y="178.6" width="1.25" height="1.25"/><rect x="272.9" y="189.1" width="1.25" height="1.25"/><rect x="292.5" y="236.7" width="1.25" height="1.25"/><rect x="294.1" y="234.1" width="1.25" height="1.25"/><rect x="297.4" y="211.6" width="1.25" height="1.25"/><rect x="256.2" y="194.6" width="1.25" height="1.25"/><rect x="268.0" y="190.1" width="1.25" height="1.25"/><rect x="269.9" y="195.4" width="1.25" height="1.25"/><rect x="280.4" y="204.9" width="1.25" height="1.25"/><rect x="283.4" y="222.6" width="1.25" height="1.25"/><rect x="287.2" y="195.1" width="1.25" height="1.25"/><rect x="286.6" y="208.8" width="1.25" height="1.25"/><rect x="293.2" y="225.3" width="1.25" height="1.25"/><rect x="265.2" y="186.4" width="1.25" height="1.25"/><rect x="279.6" y="197.6" width="1.25" height="1.25"/><rect x="293.8" y="185.9" width="1.25" height="1.25"/><rect x="264.2" y="199.7" width="1.25" height="1.25"/><rect x="293.6" y="233.2" width="1.25" height="1.25"/><rect x="260.5" y="184.9" width="1.25" height="1.25"/><rect x="272.2" y="200.8" width="1.25" height="1.25"/><rect x="277.7" y="198.4" width="1.25" height="1.25"/><rect x="284.7" y="206.8" width="1.25" height="1.25"/><rect x="308.7" y="210.0" width="1.25" height="1.25"/><rect x="262.3" y="183.1" width="1.25" height="1.25"/><rect x="271.5" y="198.2" width="1.25" height="1.25"/><rect x="270.6" y="193.8" width="1.25" height="1.25"/><rect x="282.9" y="229.9" width="1.25" height="1.25"/><rect x="285.8" y="220.1" width="1.25" height="1.25"/><rect x="268.2" y="191.2" width="1.25" height="1.25"/><rect x="256.8" y="188.4" width="1.25" height="1.25"/><rect x="256.9" y="189.8" width="1.25" height="1.25"/><rect x="286.6" y="211.5" width="1.25" height="1.25"/><rect x="292.6" y="232.6" width="1.25" height="1.25"/><rect x="259.7" y="186.3" width="1.25" height="1.25"/><rect x="284.4" y="212.7" width="1.25" height="1.25"/><rect x="258.0" y="181.8" width="1.25" height="1.25"/><rect x="292.2" y="219.0" width="1.25" height="1.25"/><rect x="286.1" y="223.7" width="1.25" height="1.25"/><rect x="310.2" y="226.3" width="1.25" height="1.25"/><rect x="252.3" y="188.7" width="1.25" height="1.25"/><rect x="286.5" y="227.6" width="1.25" height="1.25"/><rect x="257.0" y="186.6" width="1.25" height="1.25"/><rect x="292.8" y="222.6" width="1.25" height="1.25"/><rect x="275.1" y="195.0" width="1.25" height="1.25"/><rect x="275.0" y="196.4" width="1.25" height="1.25"/><rect x="267.8" y="191.9" width="1.25" height="1.25"/><rect x="263.4" y="189.1" width="1.25" height="1.25"/><rect x="299.8" y="235.5" width="1.25" height="1.25"/><rect x="291.4" y="222.0" width="1.25" height="1.25"/><rect x="288.1" y="236.6" width="1.25" height="1.25"/><rect x="293.6" y="227.6" width="1.25" height="1.25"/><rect x="270.2" y="189.6" width="1.25" height="1.25"/><rect x="283.6" y="197.7" width="1.25" height="1.25"/><rect x="286.4" y="235.1" width="1.25" height="1.25"/><rect x="262.6" y="186.5" width="1.25" height="1.25"/><rect x="289.5" y="221.8" width="1.25" height="1.25"/><rect x="286.5" y="230.5" width="1.25" height="1.25"/><rect x="289.5" y="227.7" width="1.25" height="1.25"/><rect x="292.4" y="226.6" width="1.25" height="1.25"/><rect x="278.1" y="195.5" width="1.25" height="1.25"/><rect x="300.8" y="194.3" width="1.25" height="1.25"/><rect x="263.1" y="197.0" width="1.25" height="1.25"/><rect x="286.6" y="202.8" width="1.25" height="1.25"/><rect x="264.4" y="167.8" width="1.25" height="1.25"/><rect x="306.9" y="208.4" width="1.25" height="1.25"/><rect x="281.4" y="205.9" width="1.25" height="1.25"/><rect x="254.4" y="188.8" width="1.25" height="1.25"/><rect x="258.5" y="185.8" width="1.25" height="1.25"/><rect x="267.5" y="200.5" width="1.25" height="1.25"/><rect x="298.8" y="212.2" width="1.25" height="1.25"/><rect x="288.7" y="212.2" width="1.25" height="1.25"/><rect x="290.7" y="215.0" width="1.25" height="1.25"/><rect x="288.5" y="227.3" width="1.25" height="1.25"/><rect x="290.1" y="231.0" width="1.25" height="1.25"/><rect x="278.0" y="195.6" width="1.25" height="1.25"/><rect x="272.0" y="200.0" width="1.25" height="1.25"/><rect x="289.5" y="219.5" width="1.25" height="1.25"/><rect x="260.5" y="185.3" width="1.25" height="1.25"/><rect x="288.3" y="215.1" width="1.25" height="1.25"/><rect x="259.8" y="187.0" width="1.25" height="1.25"/><rect x="283.2" y="204.0" width="1.25" height="1.25"/><rect x="294.2" y="223.3" width="1.25" height="1.25"/><rect x="274.1" y="198.3" width="1.25" height="1.25"/><rect x="266.2" y="192.1" width="1.25" height="1.25"/><rect x="255.8" y="195.1" width="1.25" height="1.25"/><rect x="280.8" y="202.0" width="1.25" height="1.25"/><rect x="264.4" y="195.5" width="1.25" height="1.25"/><rect x="266.6" y="195.7" width="1.25" height="1.25"/><rect x="284.5" y="208.8" width="1.25" height="1.25"/><rect x="287.5" y="198.2" width="1.25" height="1.25"/><rect x="287.8" y="230.5" width="1.25" height="1.25"/><rect x="285.1" y="233.9" width="1.25" height="1.25"/><rect x="289.5" y="184.8" width="1.25" height="1.25"/><rect x="269.4" y="195.3" width="1.25" height="1.25"/><rect x="268.8" y="198.0" width="1.25" height="1.25"/><rect x="288.5" y="203.6" width="1.25" height="1.25"/><rect x="295.5" y="184.2" width="1.25" height="1.25"/><rect x="281.3" y="196.3" width="1.25" height="1.25"/><rect x="282.2" y="197.0" width="1.25" height="1.25"/><rect x="263.6" y="191.3" width="1.25" height="1.25"/><rect x="280.0" y="199.5" width="1.25" height="1.25"/><rect x="274.7" y="193.2" width="1.25" height="1.25"/><rect x="302.8" y="233.3" width="1.25" height="1.25"/><rect x="287.2" y="214.5" width="1.25" height="1.25"/><rect x="288.9" y="222.2" width="1.25" height="1.25"/><rect x="252.3" y="190.3" width="1.25" height="1.25"/><rect x="287.4" y="225.1" width="1.25" height="1.25"/><rect x="263.4" y="187.9" width="1.25" height="1.25"/><rect x="294.8" y="235.6" width="1.25" height="1.25"/><rect x="285.7" y="218.3" width="1.25" height="1.25"/><rect x="286.4" y="210.0" width="1.25" height="1.25"/><rect x="254.5" y="184.0" width="1.25" height="1.25"/><rect x="289.1" y="234.5" width="1.25" height="1.25"/><rect x="290.9" y="212.6" width="1.25" height="1.25"/><rect x="254.3" y="191.8" width="1.25" height="1.25"/><rect x="259.6" y="188.5" width="1.25" height="1.25"/><rect x="291.7" y="222.2" width="1.25" height="1.25"/><rect x="277.4" y="196.8" width="1.25" height="1.25"/><rect x="290.0" y="227.4" width="1.25" height="1.25"/><rect x="289.4" y="221.6" width="1.25" height="1.25"/><rect x="288.8" y="224.7" width="1.25" height="1.25"/><rect x="260.6" y="192.1" width="1.25" height="1.25"/><rect x="305.9" y="219.9" width="1.25" height="1.25"/><rect x="255.2" y="184.6" width="1.25" height="1.25"/><rect x="290.0" y="226.6" width="1.25" height="1.25"/><rect x="293.1" y="202.8" width="1.25" height="1.25"/><rect x="279.8" y="199.9" width="1.25" height="1.25"/><rect x="283.4" y="209.9" width="1.25" height="1.25"/><rect x="289.2" y="223.4" width="1.25" height="1.25"/><rect x="291.3" y="228.1" width="1.25" height="1.25"/><rect x="285.5" y="213.2" width="1.25" height="1.25"/><rect x="288.0" y="216.0" width="1.25" height="1.25"/><rect x="294.1" y="224.7" width="1.25" height="1.25"/><rect x="269.3" y="198.7" width="1.25" height="1.25"/><rect x="260.8" y="190.2" width="1.25" height="1.25"/><rect x="289.0" y="229.1" width="1.25" height="1.25"/><rect x="289.9" y="223.9" width="1.25" height="1.25"/><rect x="290.7" y="234.2" width="1.25" height="1.25"/><rect x="269.2" y="189.8" width="1.25" height="1.25"/><rect x="281.4" y="214.2" width="1.25" height="1.25"/><rect x="261.0" y="188.2" width="1.25" height="1.25"/><rect x="291.8" y="227.6" width="1.25" height="1.25"/><rect x="306.2" y="227.5" width="1.25" height="1.25"/><rect x="292.6" y="229.7" width="1.25" height="1.25"/><rect x="273.7" y="176.0" width="1.25" height="1.25"/><rect x="289.0" y="232.9" width="1.25" height="1.25"/><rect x="265.8" y="189.7" width="1.25" height="1.25"/><rect x="279.3" y="198.6" width="1.25" height="1.25"/><rect x="286.5" y="218.2" width="1.25" height="1.25"/><rect x="291.3" y="226.6" width="1.25" height="1.25"/><rect x="290.6" y="217.4" width="1.25" height="1.25"/><rect x="291.0" y="211.6" width="1.25" height="1.25"/><rect x="276.1" y="201.6" width="1.25" height="1.25"/><rect x="277.8" y="192.6" width="1.25" height="1.25"/><rect x="284.1" y="216.3" width="1.25" height="1.25"/><rect x="269.3" y="192.6" width="1.25" height="1.25"/><rect x="282.1" y="201.5" width="1.25" height="1.25"/><rect x="269.7" y="180.6" width="1.25" height="1.25"/><rect x="300.2" y="226.3" width="1.25" height="1.25"/><rect x="277.1" y="200.0" width="1.25" height="1.25"/><rect x="269.1" y="199.7" width="1.25" height="1.25"/><rect x="286.3" y="235.8" width="1.25" height="1.25"/><rect x="262.6" y="186.3" width="1.25" height="1.25"/><rect x="263.8" y="184.1" width="1.25" height="1.25"/><rect x="285.7" y="208.9" width="1.25" height="1.25"/><rect x="291.7" y="234.0" width="1.25" height="1.25"/><rect x="260.8" y="170.5" width="1.25" height="1.25"/><rect x="287.0" y="225.8" width="1.25" height="1.25"/><rect x="282.3" y="205.1" width="1.25" height="1.25"/><rect x="280.1" y="207.4" width="1.25" height="1.25"/><rect x="265.7" y="186.0" width="1.25" height="1.25"/><rect x="275.2" y="205.6" width="1.25" height="1.25"/><rect x="256.7" y="191.4" width="1.25" height="1.25"/><rect x="273.2" y="203.0" width="1.25" height="1.25"/><rect x="254.5" y="190.3" width="1.25" height="1.25"/><rect x="286.6" y="172.8" width="1.25" height="1.25"/><rect x="275.8" y="193.6" width="1.25" height="1.25"/><rect x="276.1" y="186.4" width="1.25" height="1.25"/><rect x="284.5" y="224.4" width="1.25" height="1.25"/><rect x="274.7" y="199.6" width="1.25" height="1.25"/><rect x="280.8" y="209.4" width="1.25" height="1.25"/><rect x="300.5" y="225.7" width="1.25" height="1.25"/><rect x="278.5" y="204.1" width="1.25" height="1.25"/><rect x="289.9" y="228.6" width="1.25" height="1.25"/><rect x="282.0" y="206.5" width="1.25" height="1.25"/><rect x="266.0" y="191.4" width="1.25" height="1.25"/><rect x="286.9" y="206.0" width="1.25" height="1.25"/><rect x="266.0" y="187.1" width="1.25" height="1.25"/><rect x="291.4" y="235.2" width="1.25" height="1.25"/><rect x="270.4" y="190.1" width="1.25" height="1.25"/><rect x="258.1" y="183.9" width="1.25" height="1.25"/><rect x="283.6" y="214.0" width="1.25" height="1.25"/><rect x="282.7" y="212.4" width="1.25" height="1.25"/><rect x="294.6" y="229.1" width="1.25" height="1.25"/><rect x="257.0" y="186.0" width="1.25" height="1.25"/><rect x="271.6" y="202.5" width="1.25" height="1.25"/><rect x="264.0" y="187.8" width="1.25" height="1.25"/><rect x="289.6" y="226.3" width="1.25" height="1.25"/><rect x="263.6" y="192.2" width="1.25" height="1.25"/><rect x="260.7" y="185.0" width="1.25" height="1.25"/><rect x="264.2" y="185.8" width="1.25" height="1.25"/><rect x="287.1" y="206.2" width="1.25" height="1.25"/><rect x="289.6" y="210.2" width="1.25" height="1.25"/><rect x="286.3" y="209.4" width="1.25" height="1.25"/><rect x="284.5" y="210.8" width="1.25" height="1.25"/><rect x="287.4" y="216.3" width="1.25" height="1.25"/><rect x="255.4" y="191.1" width="1.25" height="1.25"/><rect x="265.9" y="193.2" width="1.25" height="1.25"/><rect x="286.0" y="217.7" width="1.25" height="1.25"/><rect x="299.0" y="207.0" width="1.25" height="1.25"/><rect x="271.6" y="197.9" width="1.25" height="1.25"/><rect x="289.3" y="211.3" width="1.25" height="1.25"/><rect x="288.6" y="217.8" width="1.25" height="1.25"/><rect x="286.1" y="199.7" width="1.25" height="1.25"/><rect x="289.0" y="223.6" width="1.25" height="1.25"/><rect x="255.4" y="189.4" width="1.25" height="1.25"/><rect x="286.2" y="231.6" width="1.25" height="1.25"/><rect x="266.8" y="186.5" width="1.25" height="1.25"/><rect x="280.9" y="218.8" width="1.25" height="1.25"/><rect x="288.5" y="215.9" width="1.25" height="1.25"/><rect x="260.8" y="186.5" width="1.25" height="1.25"/><rect x="254.7" y="181.8" width="1.25" height="1.25"/><rect x="301.1" y="198.9" width="1.25" height="1.25"/><rect x="256.5" y="183.7" width="1.25" height="1.25"/><rect x="270.6" y="198.6" width="1.25" height="1.25"/><rect x="294.1" y="232.9" width="1.25" height="1.25"/><rect x="275.2" y="195.9" width="1.25" height="1.25"/><rect x="283.5" y="213.0" width="1.25" height="1.25"/><rect x="263.1" y="189.6" width="1.25" height="1.25"/><rect x="276.5" y="200.7" width="1.25" height="1.25"/><rect x="269.5" y="193.3" width="1.25" height="1.25"/><rect x="265.7" y="193.4" width="1.25" height="1.25"/><rect x="282.1" y="228.7" width="1.25" height="1.25"/><rect x="264.9" y="192.9" width="1.25" height="1.25"/><rect x="290.2" y="233.9" width="1.25" height="1.25"/><rect x="275.6" y="201.3" width="1.25" height="1.25"/><rect x="268.9" y="189.7" width="1.25" height="1.25"/><rect x="265.3" y="189.7" width="1.25" height="1.25"/><rect x="263.4" y="191.9" width="1.25" height="1.25"/><rect x="265.7" y="195.7" width="1.25" height="1.25"/><rect x="258.9" y="191.5" width="1.25" height="1.25"/><rect x="276.6" y="188.5" width="1.25" height="1.25"/><rect x="278.9" y="208.2" width="1.25" height="1.25"/><rect x="260.6" y="190.8" width="1.25" height="1.25"/><rect x="286.7" y="212.5" width="1.25" height="1.25"/><rect x="269.7" y="196.0" width="1.25" height="1.25"/><rect x="259.1" y="187.0" width="1.25" height="1.25"/><rect x="261.1" y="189.5" width="1.25" height="1.25"/><rect x="289.9" y="227.7" width="1.25" height="1.25"/><rect x="266.2" y="193.2" width="1.25" height="1.25"/><rect x="257.7" y="185.8" width="1.25" height="1.25"/><rect x="284.1" y="222.0" width="1.25" height="1.25"/><rect x="279.9" y="200.3" width="1.25" height="1.25"/><rect x="295.2" y="207.0" width="1.25" height="1.25"/><rect x="291.1" y="225.6" width="1.25" height="1.25"/><rect x="280.9" y="199.0" width="1.25" height="1.25"/><rect x="257.2" y="182.4" width="1.25" height="1.25"/><rect x="275.4" y="169.1" width="1.25" height="1.25"/><rect x="279.6" y="201.0" width="1.25" height="1.25"/><rect x="291.7" y="236.5" width="1.25" height="1.25"/><rect x="253.7" y="193.7" width="1.25" height="1.25"/><rect x="284.8" y="215.1" width="1.25" height="1.25"/><rect x="288.7" y="225.7" width="1.25" height="1.25"/><rect x="256.3" y="185.5" width="1.25" height="1.25"/><rect x="291.1" y="228.6" width="1.25" height="1.25"/><rect x="267.5" y="198.8" width="1.25" height="1.25"/><rect x="289.0" y="211.3" width="1.25" height="1.25"/><rect x="277.6" y="194.6" width="1.25" height="1.25"/><rect x="265.9" y="195.4" width="1.25" height="1.25"/><rect x="268.5" y="198.7" width="1.25" height="1.25"/><rect x="288.2" y="219.9" width="1.25" height="1.25"/><rect x="271.7" y="183.7" width="1.25" height="1.25"/><rect x="281.3" y="196.4" width="1.25" height="1.25"/><rect x="290.8" y="223.5" width="1.25" height="1.25"/><rect x="264.7" y="183.4" width="1.25" height="1.25"/><rect x="261.0" y="194.1" width="1.25" height="1.25"/><rect x="294.0" y="228.9" width="1.25" height="1.25"/><rect x="283.6" y="209.6" width="1.25" height="1.25"/><rect x="281.3" y="203.5" width="1.25" height="1.25"/><rect x="277.3" y="201.8" width="1.25" height="1.25"/><rect x="281.0" y="210.5" width="1.25" height="1.25"/><rect x="269.0" y="189.9" width="1.25" height="1.25"/><rect x="261.4" y="188.7" width="1.25" height="1.25"/><rect x="283.0" y="207.0" width="1.25" height="1.25"/><rect x="287.8" y="207.4" width="1.25" height="1.25"/><rect x="273.5" y="193.7" width="1.25" height="1.25"/><rect x="284.3" y="225.1" width="1.25" height="1.25"/><rect x="269.5" y="197.0" width="1.25" height="1.25"/><rect x="278.6" y="205.2" width="1.25" height="1.25"/><rect x="276.7" y="194.7" width="1.25" height="1.25"/><rect x="285.7" y="198.5" width="1.25" height="1.25"/><rect x="268.9" y="200.2" width="1.25" height="1.25"/><rect x="270.7" y="194.7" width="1.25" height="1.25"/><rect x="292.9" y="230.0" width="1.25" height="1.25"/><rect x="267.4" y="188.6" width="1.25" height="1.25"/><rect x="290.3" y="232.7" width="1.25" height="1.25"/><rect x="252.7" y="192.7" width="1.25" height="1.25"/><rect x="290.0" y="236.1" width="1.25" height="1.25"/><rect x="288.7" y="212.5" width="1.25" height="1.25"/><rect x="287.2" y="234.1" width="1.25" height="1.25"/><rect x="304.2" y="207.5" width="1.25" height="1.25"/><rect x="284.2" y="209.8" width="1.25" height="1.25"/><rect x="286.4" y="223.3" width="1.25" height="1.25"/><rect x="290.0" y="210.9" width="1.25" height="1.25"/><rect x="263.5" y="191.9" width="1.25" height="1.25"/><rect x="290.5" y="195.5" width="1.25" height="1.25"/><rect x="279.0" y="208.6" width="1.25" height="1.25"/><rect x="272.0" y="202.2" width="1.25" height="1.25"/><rect x="264.7" y="187.7" width="1.25" height="1.25"/><rect x="260.9" y="190.7" width="1.25" height="1.25"/><rect x="291.7" y="229.4" width="1.25" height="1.25"/><rect x="274.3" y="189.1" width="1.25" height="1.25"/><rect x="269.3" y="193.1" width="1.25" height="1.25"/><rect x="289.4" y="218.6" width="1.25" height="1.25"/><rect x="290.0" y="209.8" width="1.25" height="1.25"/><rect x="253.2" y="179.6" width="1.25" height="1.25"/><rect x="275.8" y="200.9" width="1.25" height="1.25"/><rect x="281.4" y="206.7" width="1.25" height="1.25"/><rect x="257.4" y="192.2" width="1.25" height="1.25"/><rect x="266.6" y="193.1" width="1.25" height="1.25"/><rect x="282.9" y="200.7" width="1.25" height="1.25"/><rect x="289.6" y="216.5" width="1.25" height="1.25"/><rect x="255.8" y="187.0" width="1.25" height="1.25"/><rect x="256.0" y="182.2" width="1.25" height="1.25"/><rect x="265.8" y="194.7" width="1.25" height="1.25"/><rect x="291.6" y="230.7" width="1.25" height="1.25"/><rect x="281.0" y="203.5" width="1.25" height="1.25"/><rect x="269.7" y="199.5" width="1.25" height="1.25"/><rect x="285.9" y="226.3" width="1.25" height="1.25"/><rect x="263.1" y="185.1" width="1.25" height="1.25"/><rect x="295.4" y="226.8" width="1.25" height="1.25"/><rect x="282.8" y="201.0" width="1.25" height="1.25"/><rect x="281.7" y="208.0" width="1.25" height="1.25"/><rect x="260.1" y="187.5" width="1.25" height="1.25"/><rect x="265.8" y="186.6" width="1.25" height="1.25"/><rect x="265.7" y="192.3" width="1.25" height="1.25"/><rect x="285.1" y="215.9" width="1.25" height="1.25"/><rect x="290.7" y="218.8" width="1.25" height="1.25"/><rect x="277.2" y="194.0" width="1.25" height="1.25"/><rect x="271.2" y="192.0" width="1.25" height="1.25"/><rect x="256.7" y="179.9" width="1.25" height="1.25"/><rect x="287.6" y="219.3" width="1.25" height="1.25"/><rect x="285.3" y="210.5" width="1.25" height="1.25"/><rect x="252.7" y="192.8" width="1.25" height="1.25"/><rect x="268.5" y="182.3" width="1.25" height="1.25"/><rect x="262.2" y="186.6" width="1.25" height="1.25"/><rect x="288.0" y="209.5" width="1.25" height="1.25"/><rect x="263.2" y="190.2" width="1.25" height="1.25"/><rect x="262.3" y="191.5" width="1.25" height="1.25"/><rect x="259.9" y="186.5" width="1.25" height="1.25"/><rect x="254.1" y="194.8" width="1.25" height="1.25"/><rect x="287.7" y="219.3" width="1.25" height="1.25"/><rect x="284.9" y="197.6" width="1.25" height="1.25"/><rect x="263.4" y="196.1" width="1.25" height="1.25"/><rect x="296.3" y="230.0" width="1.25" height="1.25"/><rect x="277.8" y="194.4" width="1.25" height="1.25"/><rect x="290.4" y="228.4" width="1.25" height="1.25"/><rect x="281.0" y="203.9" width="1.25" height="1.25"/><rect x="288.2" y="213.3" width="1.25" height="1.25"/><rect x="279.5" y="208.9" width="1.25" height="1.25"/><rect x="262.0" y="189.5" width="1.25" height="1.25"/><rect x="293.3" y="218.3" width="1.25" height="1.25"/><rect x="284.1" y="197.5" width="1.25" height="1.25"/><rect x="261.4" y="190.3" width="1.25" height="1.25"/><rect x="289.6" y="223.8" width="1.25" height="1.25"/><rect x="285.2" y="210.4" width="1.25" height="1.25"/><rect x="292.3" y="204.2" width="1.25" height="1.25"/><rect x="285.7" y="201.9" width="1.25" height="1.25"/><rect x="274.1" y="193.6" width="1.25" height="1.25"/><rect x="288.3" y="207.3" width="1.25" height="1.25"/><rect x="285.5" y="186.5" width="1.25" height="1.25"/><rect x="271.6" y="173.7" width="1.25" height="1.25"/><rect x="255.5" y="189.5" width="1.25" height="1.25"/><rect x="283.6" y="209.4" width="1.25" height="1.25"/><rect x="265.6" y="191.6" width="1.25" height="1.25"/><rect x="265.4" y="184.3" width="1.25" height="1.25"/><rect x="276.4" y="176.7" width="1.25" height="1.25"/><rect x="262.9" y="189.9" width="1.25" height="1.25"/><rect x="284.1" y="225.9" width="1.25" height="1.25"/><rect x="289.8" y="232.7" width="1.25" height="1.25"/><rect x="309.4" y="215.7" width="1.25" height="1.25"/><rect x="288.5" y="228.7" width="1.25" height="1.25"/><rect x="253.9" y="183.3" width="1.25" height="1.25"/><rect x="263.8" y="181.5" width="1.25" height="1.25"/><rect x="283.1" y="201.5" width="1.25" height="1.25"/><rect x="290.9" y="214.9" width="1.25" height="1.25"/><rect x="287.3" y="217.0" width="1.25" height="1.25"/><rect x="294.6" y="203.7" width="1.25" height="1.25"/><rect x="295.0" y="231.5" width="1.25" height="1.25"/><rect x="285.3" y="229.7" width="1.25" height="1.25"/><rect x="276.3" y="179.5" width="1.25" height="1.25"/><rect x="298.3" y="202.5" width="1.25" height="1.25"/><rect x="292.8" y="221.8" width="1.25" height="1.25"/><rect x="286.6" y="226.7" width="1.25" height="1.25"/><rect x="276.1" y="207.5" width="1.25" height="1.25"/><rect x="285.1" y="218.7" width="1.25" height="1.25"/><rect x="270.8" y="196.0" width="1.25" height="1.25"/><rect x="275.7" y="169.0" width="1.25" height="1.25"/><rect x="268.8" y="195.8" width="1.25" height="1.25"/><rect x="293.2" y="232.1" width="1.25" height="1.25"/><rect x="291.4" y="230.6" width="1.25" height="1.25"/><rect x="270.8" y="189.0" width="1.25" height="1.25"/><rect x="293.3" y="236.0" width="1.25" height="1.25"/><rect x="279.7" y="195.2" width="1.25" height="1.25"/><rect x="286.0" y="220.9" width="1.25" height="1.25"/><rect x="276.6" y="197.9" width="1.25" height="1.25"/><rect x="278.9" y="197.8" width="1.25" height="1.25"/><rect x="275.9" y="205.2" width="1.25" height="1.25"/><rect x="283.0" y="208.6" width="1.25" height="1.25"/><rect x="260.2" y="194.3" width="1.25" height="1.25"/><rect x="252.1" y="183.4" width="1.25" height="1.25"/><rect x="267.2" y="197.5" width="1.25" height="1.25"/><rect x="284.0" y="206.2" width="1.25" height="1.25"/><rect x="286.4" y="222.6" width="1.25" height="1.25"/><rect x="277.0" y="200.2" width="1.25" height="1.25"/><rect x="271.6" y="183.8" width="1.25" height="1.25"/><rect x="289.5" y="236.5" width="1.25" height="1.25"/><rect x="289.7" y="225.5" width="1.25" height="1.25"/><rect x="293.1" y="233.0" width="1.25" height="1.25"/><rect x="293.4" y="189.8" width="1.25" height="1.25"/><rect x="253.4" y="187.4" width="1.25" height="1.25"/><rect x="261.1" y="192.9" width="1.25" height="1.25"/><rect x="285.0" y="219.8" width="1.25" height="1.25"/><rect x="256.3" y="187.8" width="1.25" height="1.25"/><rect x="259.8" y="193.3" width="1.25" height="1.25"/><rect x="277.6" y="193.0" width="1.25" height="1.25"/><rect x="292.4" y="191.0" width="1.25" height="1.25"/><rect x="275.8" y="193.3" width="1.25" height="1.25"/><rect x="289.5" y="221.7" width="1.25" height="1.25"/><rect x="292.8" y="226.4" width="1.25" height="1.25"/><rect x="274.8" y="192.7" width="1.25" height="1.25"/><rect x="280.5" y="204.2" width="1.25" height="1.25"/><rect x="287.6" y="219.7" width="1.25" height="1.25"/><rect x="276.6" y="192.2" width="1.25" height="1.25"/><rect x="284.7" y="208.8" width="1.25" height="1.25"/><rect x="268.5" y="184.7" width="1.25" height="1.25"/><rect x="306.8" y="232.2" width="1.25" height="1.25"/><rect x="272.1" y="194.1" width="1.25" height="1.25"/><rect x="290.2" y="225.3" width="1.25" height="1.25"/><rect x="294.5" y="220.3" width="1.25" height="1.25"/><rect x="290.2" y="229.8" width="1.25" height="1.25"/><rect x="259.7" y="197.1" width="1.25" height="1.25"/><rect x="262.3" y="192.8" width="1.25" height="1.25"/><rect x="284.2" y="215.8" width="1.25" height="1.25"/><rect x="264.9" y="182.1" width="1.25" height="1.25"/><rect x="289.6" y="220.1" width="1.25" height="1.25"/><rect x="292.4" y="205.1" width="1.25" height="1.25"/><rect x="308.2" y="225.1" width="1.25" height="1.25"/><rect x="253.9" y="183.5" width="1.25" height="1.25"/><rect x="294.0" y="227.7" width="1.25" height="1.25"/><rect x="272.9" y="200.5" width="1.25" height="1.25"/><rect x="265.3" y="189.7" width="1.25" height="1.25"/><rect x="262.0" y="184.1" width="1.25" height="1.25"/><rect x="255.5" y="187.1" width="1.25" height="1.25"/><rect x="284.4" y="213.3" width="1.25" height="1.25"/><rect x="258.0" y="172.6" width="1.25" height="1.25"/><rect x="300.9" y="208.0" width="1.25" height="1.25"/><rect x="291.7" y="219.1" width="1.25" height="1.25"/><rect x="259.4" y="187.6" width="1.25" height="1.25"/><rect x="260.7" y="196.1" width="1.25" height="1.25"/><rect x="282.3" y="227.4" width="1.25" height="1.25"/><rect x="255.4" y="191.0" width="1.25" height="1.25"/><rect x="289.6" y="221.1" width="1.25" height="1.25"/><rect x="287.9" y="218.5" width="1.25" height="1.25"/><rect x="268.7" y="198.7" width="1.25" height="1.25"/><rect x="288.5" y="217.1" width="1.25" height="1.25"/><rect x="272.6" y="196.0" width="1.25" height="1.25"/><rect x="273.2" y="183.4" width="1.25" height="1.25"/><rect x="292.0" y="225.2" width="1.25" height="1.25"/><rect x="300.3" y="208.6" width="1.25" height="1.25"/><rect x="286.7" y="214.6" width="1.25" height="1.25"/><rect x="255.8" y="188.8" width="1.25" height="1.25"/><rect x="261.4" y="191.7" width="1.25" height="1.25"/><rect x="298.2" y="208.5" width="1.25" height="1.25"/><rect x="271.2" y="196.6" width="1.25" height="1.25"/><rect x="252.8" y="186.8" width="1.25" height="1.25"/><rect x="288.7" y="218.6" width="1.25" height="1.25"/><rect x="253.8" y="191.2" width="1.25" height="1.25"/><rect x="285.2" y="209.0" width="1.25" height="1.25"/><rect x="263.1" y="192.6" width="1.25" height="1.25"/><rect x="288.7" y="219.9" width="1.25" height="1.25"/><rect x="282.9" y="201.0" width="1.25" height="1.25"/><rect x="291.9" y="233.9" width="1.25" height="1.25"/><rect x="267.4" y="194.0" width="1.25" height="1.25"/><rect x="282.0" y="203.8" width="1.25" height="1.25"/><rect x="283.2" y="202.2" width="1.25" height="1.25"/><rect x="278.0" y="198.9" width="1.25" height="1.25"/><rect x="255.2" y="191.1" width="1.25" height="1.25"/><rect x="260.7" y="181.7" width="1.25" height="1.25"/><rect x="268.3" y="188.3" width="1.25" height="1.25"/><rect x="287.8" y="221.7" width="1.25" height="1.25"/><rect x="291.8" y="222.3" width="1.25" height="1.25"/><rect x="290.5" y="235.6" width="1.25" height="1.25"/><rect x="275.2" y="195.7" width="1.25" height="1.25"/><rect x="276.5" y="167.0" width="1.25" height="1.25"/><rect x="287.8" y="221.0" width="1.25" height="1.25"/><rect x="291.2" y="218.8" width="1.25" height="1.25"/><rect x="277.7" y="195.8" width="1.25" height="1.25"/><rect x="296.6" y="235.4" width="1.25" height="1.25"/><rect x="275.5" y="209.4" width="1.25" height="1.25"/><rect x="261.3" y="190.9" width="1.25" height="1.25"/><rect x="286.9" y="212.1" width="1.25" height="1.25"/><rect x="298.4" y="234.2" width="1.25" height="1.25"/><rect x="270.5" y="203.0" width="1.25" height="1.25"/><rect x="287.1" y="219.9" width="1.25" height="1.25"/><rect x="288.5" y="227.0" width="1.25" height="1.25"/><rect x="283.5" y="221.5" width="1.25" height="1.25"/><rect x="269.7" y="201.2" width="1.25" height="1.25"/><rect x="255.7" y="182.5" width="1.25" height="1.25"/><rect x="287.4" y="235.3" width="1.25" height="1.25"/><rect x="297.7" y="192.8" width="1.25" height="1.25"/><rect x="286.9" y="189.3" width="1.25" height="1.25"/><rect x="258.3" y="193.5" width="1.25" height="1.25"/><rect x="257.9" y="191.2" width="1.25" height="1.25"/><rect x="284.7" y="210.5" width="1.25" height="1.25"/><rect x="268.5" y="188.9" width="1.25" height="1.25"/><rect x="281.0" y="203.8" width="1.25" height="1.25"/><rect x="289.9" y="223.9" width="1.25" height="1.25"/><rect x="282.1" y="225.0" width="1.25" height="1.25"/><rect x="267.7" y="191.5" width="1.25" height="1.25"/><rect x="292.8" y="225.8" width="1.25" height="1.25"/><rect x="284.4" y="205.5" width="1.25" height="1.25"/><rect x="255.7" y="187.0" width="1.25" height="1.25"/><rect x="278.1" y="205.0" width="1.25" height="1.25"/><rect x="286.1" y="209.9" width="1.25" height="1.25"/><rect x="280.2" y="183.4" width="1.25" height="1.25"/><rect x="288.7" y="217.8" width="1.25" height="1.25"/><rect x="286.3" y="177.4" width="1.25" height="1.25"/><rect x="266.7" y="194.2" width="1.25" height="1.25"/><rect x="292.6" y="236.2" width="1.25" height="1.25"/><rect x="310.7" y="219.3" width="1.25" height="1.25"/><rect x="284.1" y="218.2" width="1.25" height="1.25"/><rect x="292.5" y="230.0" width="1.25" height="1.25"/><rect x="286.6" y="210.3" width="1.25" height="1.25"/><rect x="300.0" y="232.4" width="1.25" height="1.25"/><rect x="266.1" y="198.5" width="1.25" height="1.25"/><rect x="272.9" y="201.6" width="1.25" height="1.25"/><rect x="303.1" y="212.3" width="1.25" height="1.25"/><rect x="275.8" y="196.8" width="1.25" height="1.25"/><rect x="289.0" y="216.8" width="1.25" height="1.25"/><rect x="292.8" y="218.4" width="1.25" height="1.25"/><rect x="275.5" y="194.8" width="1.25" height="1.25"/><rect x="288.0" y="225.8" width="1.25" height="1.25"/><rect x="256.0" y="169.1" width="1.25" height="1.25"/><rect x="266.8" y="194.8" width="1.25" height="1.25"/></g><line x1="231.7" y1="235" x2="257.9" y2="244.9" stroke="#777" stroke-width="0.6"/><polygon points="387,126 470,127 478,135 478,238 389,240" fill="#edf1f9"/><g stroke="#c8d0dc" stroke-width="0.6"><line x1="389" y1="145" x2="490" y2="145"/><line x1="403.7" y1="126" x2="403.7" y2="240"/><line x1="420" y1="126" x2="420" y2="240"/><line x1="438.7" y1="126" x2="438.7" y2="240"/><line x1="455" y1="126" x2="455" y2="240"/><line x1="389" y1="200" x2="480" y2="200"/></g><g stroke="#333" stroke-width="0.85" fill="none"><path d="M387.5,131.2 L397.5,134.5"/><path d="M387.5,131.3 C445,130 476,160 476,224"/><path d="M397.5,134.5 C442,134 472,163 472,224"/><path d="M392,158.5 C420,158.5 443,180 443,224"/><path d="M387.5,131.2 L392.3,217"/><path d="M397.5,134.5 L398.7,161"/><path d="M438,231.5 L480,229.5 M443,225 L476,224" stroke-width="0.6"/></g><polygon points="391.9,182.3 431.7,182.3 431.7,198.7 438.7,198.7 438.7,231.5 391.9,231.5" fill="#f8f9fc"/><g stroke="#4c4c56" stroke-width="1.35" stroke-linecap="square"><line x1="391.9" y1="182.3" x2="391.9" y2="231.5"/><line x1="399.7" y1="182.3" x2="399.7" y2="231.5"/><line x1="407.5" y1="182.3" x2="407.5" y2="231.5"/><line x1="415.3" y1="182.3" x2="415.3" y2="231.5"/><line x1="423.1" y1="182.3" x2="423.1" y2="231.5"/><line x1="430.9" y1="182.3" x2="430.9" y2="231.5"/><line x1="438.7" y1="198.7" x2="438.7" y2="231.5"/><line x1="391.9" y1="182.3" x2="431.7" y2="182.3"/><line x1="391.9" y1="190.5" x2="431.7" y2="190.5"/><line x1="391.9" y1="198.7" x2="438.7" y2="198.7"/><line x1="391.9" y1="206.9" x2="438.7" y2="206.9"/><line x1="391.9" y1="215.1" x2="438.7" y2="215.1"/><line x1="391.9" y1="223.3" x2="438.7" y2="223.3"/><line x1="391.9" y1="231.5" x2="438.7" y2="231.5"/></g><g stroke="#c83838" stroke-width="0.8"><line x1="391.9" y1="207.0" x2="415.3" y2="207.0"/><line x1="391.9" y1="215.2" x2="415.3" y2="215.2"/><line x1="391.9" y1="223.4" x2="415.3" y2="223.4"/><line x1="391.9" y1="231.6" x2="415.3" y2="231.6"/><line x1="391.9" y1="207" x2="391.9" y2="231.5"/><line x1="399.7" y1="207" x2="399.7" y2="231.5"/><line x1="407.5" y1="207" x2="407.5" y2="231.5"/><line x1="415.3" y1="207" x2="415.3" y2="231.5"/></g><g stroke="#666" stroke-width="1.2"><line x1="395.5" y1="155" x2="395.5" y2="184"/></g><line x1="370.3" y1="224.9" x2="398.5" y2="246.5" stroke="#777" stroke-width="0.6"/><g font-family="Liberation Serif, serif"><text x="3" y="29.2" font-size="14" text-anchor="start" fill="#111" >(a)</text><text transform="translate(53.3,37) rotate(-90)" font-size="9.5" fill="#111">x [mm]</text><text x="4" y="100" font-size="9.5" text-anchor="start" fill="#111" >8</text><text x="14" y="108" font-size="9.5" text-anchor="start" fill="#111" >6</text><text x="24" y="113.5" font-size="9.5" text-anchor="start" fill="#111" >4</text><text x="35" y="120.5" font-size="9.5" text-anchor="start" fill="#111" >2</text><text x="46" y="128.5" font-size="9.5" text-anchor="start" fill="#111" >0</text><text x="1" y="120.5" font-size="9.5" text-anchor="start" fill="#111" >-y [mm]</text><text x="72.5" y="124" font-size="9.5" text-anchor="start" fill="#111" >0</text><text x="105" y="111.5" font-size="9.5" text-anchor="start" fill="#111" >5</text><text x="139" y="98" font-size="9.5" text-anchor="start" fill="#111" >10</text><text x="153" y="98.5" font-size="9.5" text-anchor="start" fill="#111" >z [mm]</text><text x="174" y="84" font-size="9.5" text-anchor="start" fill="#111" >15</text><text x="214.8" y="14.5" font-size="6.2" text-anchor="start" fill="#666" >6</text><text x="214.8" y="29.5" font-size="6.2" text-anchor="start" fill="#666" >4</text><text x="214.8" y="44.5" font-size="6.2" text-anchor="start" fill="#666" >2</text><text x="214.8" y="59" font-size="6.2" text-anchor="start" fill="#666" >0</text><text x="3" y="166.5" font-size="14" text-anchor="start" fill="#111" >(b)</text><text transform="translate(52.6,164) rotate(-90)" font-size="9.5" fill="#111">x [mm]</text><text x="5" y="224.5" font-size="9.5" text-anchor="start" fill="#111" >8</text><text x="14" y="233" font-size="9.5" text-anchor="start" fill="#111" >6</text><text x="25" y="239.5" font-size="9.5" text-anchor="start" fill="#111" >4</text><text x="34" y="247.5" font-size="9.5" text-anchor="start" fill="#111" >2</text><text x="46" y="254.5" font-size="9.5" text-anchor="start" fill="#111" >0</text><text x="1" y="247.5" font-size="9.5" text-anchor="start" fill="#111" >-y [mm]</text><text x="72.5" y="248" font-size="9.5" text-anchor="start" fill="#111" >0</text><text x="105" y="235.5" font-size="9.5" text-anchor="start" fill="#111" >5</text><text x="138" y="224.5" font-size="9.5" text-anchor="start" fill="#111" >10</text><text x="152" y="226.5" font-size="9.5" text-anchor="start" fill="#111" >z [mm]</text><text x="173" y="210" font-size="9.5" text-anchor="start" fill="#111" >15</text><text x="214.8" y="139.5" font-size="6.2" text-anchor="start" fill="#666" >6</text><text x="214.8" y="154.5" font-size="6.2" text-anchor="start" fill="#666" >4</text><text x="214.8" y="169.5" font-size="6.2" text-anchor="start" fill="#666" >2</text><text x="214.8" y="184" font-size="6.2" text-anchor="start" fill="#666" >0</text><text x="254" y="27.5" font-size="14" text-anchor="start" fill="#111" >(c)</text><text x="242.5" y="16.8" font-size="9" text-anchor="middle" fill="#111" >8</text><text x="242.5" y="33.8" font-size="9" text-anchor="middle" fill="#111" >6</text><text x="242.5" y="50.3" font-size="9" text-anchor="middle" fill="#111" >4</text><text x="242.5" y="66.8" font-size="9" text-anchor="middle" fill="#111" >2</text><text x="242.5" y="82.8" font-size="9" text-anchor="middle" fill="#111" >0</text><text transform="translate(238,88.5) rotate(-90)" font-size="9" fill="#111">x [mm]</text><text x="279.3" y="97.8" font-size="8.5" text-anchor="middle" fill="#111" >0</text><text x="321" y="97.8" font-size="8.5" text-anchor="middle" fill="#111" >5</text><text x="363.5" y="97.8" font-size="8.5" text-anchor="middle" fill="#111" >10</text><text x="404.5" y="97.8" font-size="8.5" text-anchor="middle" fill="#111" >15</text><text x="336" y="106.5" font-size="8.8" text-anchor="start" fill="#111" >z [mm]</text><text x="463" y="18.2" font-size="12.5" fill="#111">| <tspan font-weight="bold">v</tspan> | [km/s]</text><text x="508.5" y="57.3" font-size="9" text-anchor="start" fill="#222" >80</text><text x="508.5" y="83.8" font-size="9" text-anchor="start" fill="#222" >70</text><text x="508.5" y="110.3" font-size="9" text-anchor="start" fill="#222" >60</text><text x="508.5" y="136.8" font-size="9" text-anchor="start" fill="#222" >50</text><text x="508.5" y="163.3" font-size="9" text-anchor="start" fill="#222" >40</text><text x="508.5" y="189.8" font-size="9" text-anchor="start" fill="#222" >30</text><text x="508.5" y="216.3" font-size="9" text-anchor="start" fill="#222" >20</text><text x="230" y="137" font-size="14" text-anchor="start" fill="#111" >(d)</text><text x="274.8" y="248.7" font-size="7.5" text-anchor="middle" fill="#333" >2</text><text x="294.5" y="248.7" font-size="7.5" text-anchor="middle" fill="#333" >4</text><text x="317.3" y="247.3" font-size="7.5" text-anchor="middle" fill="#333" >6</text><text x="339" y="247.3" font-size="7.5" text-anchor="middle" fill="#333" >8</text><text x="297" y="254" font-size="7.5" text-anchor="start" fill="#333" >x [mm]</text><text x="233.8" y="234" font-size="9" text-anchor="start" fill="#333" >z</text><text x="351.5" y="141.9" font-size="7.5" text-anchor="start" fill="#444" >8</text><text x="350.3" y="166.9" font-size="7.5" text-anchor="start" fill="#444" >6</text><text x="348.3" y="190.4" font-size="7.5" text-anchor="start" fill="#444" >4</text><text x="348.3" y="216.6" font-size="7.5" text-anchor="start" fill="#444" >2</text><text x="349" y="241.8" font-size="7.5" text-anchor="start" fill="#444" >0</text><text transform="translate(362.3,202.5) rotate(-90)" font-size="7.5" fill="#333">y [mm]</text><text x="369.5" y="138.7" font-size="14" text-anchor="start" fill="#111" >(e)</text><text x="413" y="245.5" font-size="7.5" text-anchor="middle" fill="#333" >2</text><text x="434" y="244.8" font-size="7.5" text-anchor="middle" fill="#333" >4</text><text x="455" y="243.5" font-size="7.5" text-anchor="middle" fill="#333" >6</text><text x="475" y="242.5" font-size="7.5" text-anchor="middle" fill="#333" >8</text><text x="430.8" y="252.5" font-size="7.5" text-anchor="start" fill="#333" >x [mm]</text><text x="372.2" y="223" font-size="9" text-anchor="start" fill="#333" >z</text><text x="478.2" y="139" font-size="7.5" text-anchor="start" fill="#444" >8</text><text x="478.2" y="160.6" font-size="7.5" text-anchor="start" fill="#444" >6</text><text x="479" y="184.1" font-size="7.5" text-anchor="start" fill="#444" >4</text><text x="481.5" y="209" font-size="7.5" text-anchor="start" fill="#444" >2</text><text x="482.3" y="233.3" font-size="7.5" text-anchor="start" fill="#444" >0</text><text transform="translate(490,179.5) rotate(-90)" font-size="7.5" fill="#333">y [mm]</text></g>
</svg>
</body></html>
